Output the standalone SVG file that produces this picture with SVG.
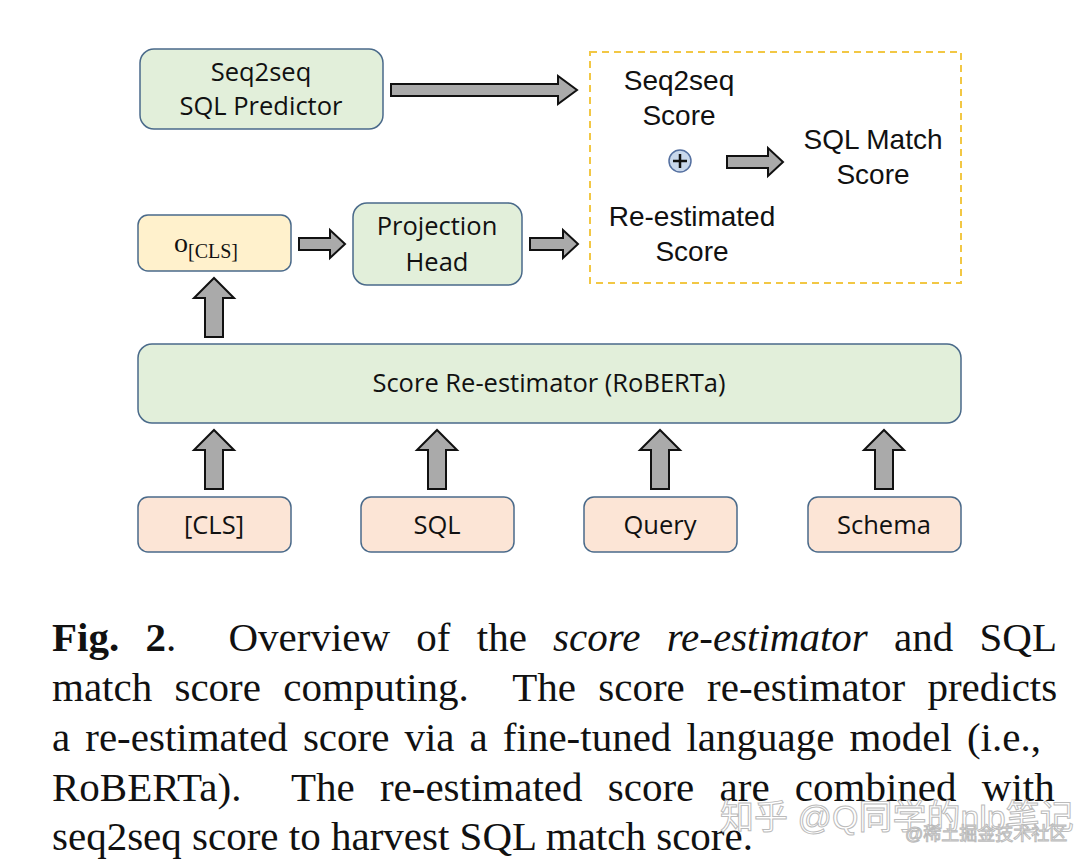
<svg xmlns="http://www.w3.org/2000/svg" width="1091" height="865" viewBox="0 0 1091 865">
<style>
.g{fill:#e2efda;stroke:#4a6a8a;stroke-width:1.5}
.o{fill:#fce5d6;stroke:#4a6a8a;stroke-width:1.5}
.y{fill:#fff1cc;stroke:#4a6a8a;stroke-width:1.5}
.t{font-family:"Open Sans","DejaVu Sans",sans-serif;font-size:25.5px;fill:#111;text-anchor:middle}
.a{font-family:"Liberation Sans",Arial,sans-serif;font-size:28px;fill:#111;text-anchor:middle}
.ar{fill:#aaa;stroke:#111;stroke-width:2;stroke-linejoin:miter}
.c{font-family:"Liberation Serif","Times New Roman",serif;font-size:41px;fill:#111}
.w{font-family:"Liberation Sans","Noto Sans CJK SC",sans-serif;fill:#fff;stroke:#bbb;stroke-width:1}
</style>
<rect width="1091" height="865" fill="#fff"/>
<g id="seq2seq"><rect class="g" x="140" y="49" width="243" height="80" rx="14"/><text class="t" x="261" y="81">Seq2seq</text><text class="t" x="261" y="115">SQL Predictor</text></g>
<g id="ocls"><rect class="y" x="138" y="215" width="153" height="56" rx="10"/><text x="174" y="252" font-family="'Liberation Serif',serif" font-size="28" fill="#111">o<tspan font-size="20" dy="6">[CLS]</tspan></text></g>
<g id="projection"><rect class="g" x="353" y="203" width="169" height="82" rx="14"/><text class="t" x="437" y="235">Projection</text><text class="t" x="437" y="271">Head</text></g>
<g id="scorebox"><rect x="590" y="52" width="371" height="231" fill="none" stroke="#f2c744" stroke-width="2" stroke-dasharray="7,5"/>
<text class="a" x="679" y="90">Seq2seq</text><text class="a" x="679" y="125">Score</text>
<text class="a" x="692" y="226">Re-estimated</text><text class="a" x="692" y="261">Score</text>
<text class="a" x="873" y="149">SQL Match</text><text class="a" x="873" y="184">Score</text>
<g id="plus"><circle cx="680" cy="161" r="11" fill="#c9d8ec" stroke="#5570a0" stroke-width="1.5"/><path d="M673 161h14M680 154v14" stroke="#111" stroke-width="2.5"/></g></g>
<g id="reestimator"><rect class="g" x="138" y="344" width="823" height="79" rx="14"/><text class="t" x="549" y="392">Score Re-estimator (RoBERTa)</text></g>
<g id="cls"><rect class="o" x="138" y="497" width="153" height="55" rx="10"/><text class="t" x="214" y="534">[CLS]</text></g>
<g id="sql"><rect class="o" x="361" y="497" width="153" height="55" rx="10"/><text class="t" x="437" y="534">SQL</text></g>
<g id="query"><rect class="o" x="584" y="497" width="153" height="55" rx="10"/><text class="t" x="660" y="534">Query</text></g>
<g id="schema"><rect class="o" x="808" y="497" width="153" height="55" rx="10"/><text class="t" x="884" y="534">Schema</text></g>
<g id="connectors">
<path class="ar" d="M391 84H558V76L577 90L558 104V96H391Z"/>
<path class="ar" d="M299 238H330V230L345 244L330 258V250H299Z"/>
<path class="ar" d="M530 238H563V230L578 244L563 258V250H530Z"/>
<path class="ar" d="M727 156H768V148L783 162L768 176V168H727Z"/>
<path class="ar" d="M205 337V298H194L214 278L234 298H223V337Z"/>
<path class="ar" d="M205 489V450H194L214 430L234 450H223V489Z"/>
<path class="ar" d="M428 489V450H417L437 430L457 450H446V489Z"/>
<path class="ar" d="M651 489V450H640L660 430L680 450H669V489Z"/>
<path class="ar" d="M875 489V450H864L884 430L904 450H893V489Z"/>
</g>
<g id="caption">
<text class="c" y="651" x="52" word-spacing="16"><tspan font-weight="bold">Fig. 2</tspan>. <tspan dx="26">Overview</tspan> of the <tspan font-style="italic">score re-estimator</tspan> and SQL</text>
<text class="c" y="701" x="52" word-spacing="12">match score computing. <tspan dx="22">The</tspan> score re-estimator predicts</text>
<text class="c" y="751" x="52" word-spacing="4.8">a re-estimated score via a fine-tuned language model (i.e.,</text>
<text class="c" y="801" x="52" word-spacing="15">RoBERTa). <tspan dx="25">The</tspan> re-estimated score are combined with</text>
<text class="c" x="52" y="850">seq2seq score to harvest SQL match score.</text>
</g>
<g id="watermark">
<text class="w" x="720" y="829" font-size="34">知乎 @Q同学的nlp笔记</text>
<text class="w" x="905" y="840" font-size="18">@稀土掘金技术社区</text>
</g>
</svg>
